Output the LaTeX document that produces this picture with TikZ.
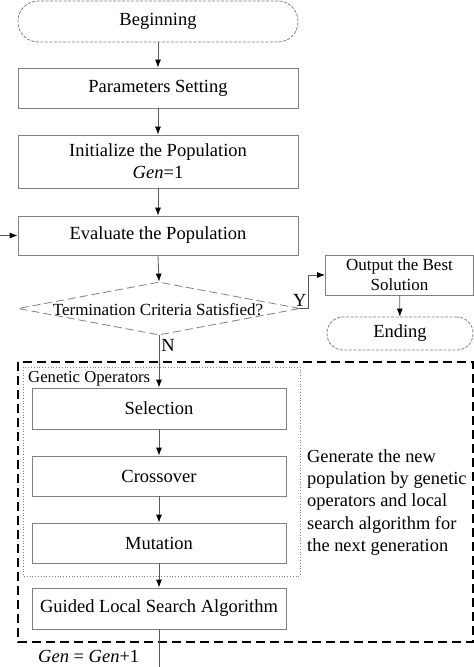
\documentclass[tikz,border=0pt]{standalone}
\usepackage{fontspec}
\setmainfont{Liberation Serif}
\usetikzlibrary{shapes.geometric,arrows.meta}
\tikzset{
  procbox/.style={draw=gray,line width=0.8pt,minimum width=280pt,minimum height=40pt,inner sep=0pt,align=center,font=\fontsize{18.5}{22}\selectfont},
  gabox/.style={procbox,minimum width=254pt,minimum height=41pt},
  termbox/.style={procbox,draw=gray,dash pattern=on 3pt off 1.5pt},
  decbox/.style={diamond,draw=gray,line width=0.8pt,dash pattern=on 8pt off 4pt,inner sep=0pt,minimum width=282pt,minimum height=53pt},
  smalltxt/.style={inner sep=0pt,align=center,font=\fontsize{17}{20}\selectfont},
  flow/.style={draw=black!65,line width=0.8pt,->}
}
\begin{document}
\begin{tikzpicture}[x=1pt,y=-1pt,>={Latex[length=8pt,width=6pt,color=black]}]
\useasboundingbox (0,0) rectangle (474,667);
%main column
\node[termbox,rounded corners=20pt,minimum height=41pt] (begin) at (158,21.5) {Beginning};
\node[procbox] (param) at (158,88) {Parameters Setting};
\node[procbox,minimum height=53pt] (init) at (158,161.5) {Initialize the Population\\\textit{Gen}=1};
\node[procbox,minimum height=39pt] (eval) at (158,235.5) {Evaluate the Population};
\node[decbox] (crit) at (159,308.5) {};
\node[smalltxt] (crittxt) at (158,310) {Termination Criteria Satisfied?};
%exit branch
\node[procbox,smalltxt,draw=gray,minimum width=148pt,minimum height=40pt] (output) at (399.5,275) {Output the Best\\Solution};
\node[termbox,rounded corners=16pt,minimum width=146pt,minimum height=33pt] (ending) at (400,333.5) {Ending};
%operators
\draw[black,line width=1.6pt,dash pattern=on 9pt off 5pt] (18,362) rectangle (473,642);
\draw[gray,dotted,line width=0.8pt] (23,367) rectangle (300,576);
\node[anchor=west,inner sep=0pt,font=\fontsize{16.7}{20}\selectfont] (golbl) at (28,379) {Genetic Operators};
\node[gabox] (sel) at (159,408.5) {Selection};
\node[gabox,minimum height=40pt] (cross) at (159,476) {Crossover};
\node[gabox,minimum height=40pt] (mut) at (159,543) {Mutation};
\node[gabox] (gls) at (159,608.5) {Guided Local Search Algorithm};
\node[anchor=west,inner sep=0pt,align=left,font=\fontsize{18.4}{22.2}\selectfont] (gentxt) at (307,502.5) {Generate the new\\population by genetic\\operators and local\\search algorithm for\\the next generation};
\node[anchor=west,inner sep=0pt,font=\fontsize{18.5}{22}\selectfont] (genlbl) at (38,656) {\textit{Gen} = \textit{Gen}+1};
%connectors
\coordinate (loopin) at (0,235.5);
\coordinate (loopout) at (159,667);
\draw[flow] (begin) -- (param);
\draw[flow] (param) -- (init);
\draw[flow] (init) -- (eval);
\draw[flow] (loopin) -- (eval.west);
\draw[flow] (eval.south) -- (crit.north);
\draw[flow] (crit.east) -- ++(8,0) |- (output.west) node[pos=0.12,left,font=\fontsize{18.5}{22}\selectfont,inner sep=1.5pt] (ylbl) {Y};
\draw[flow] (output) -- (ending);
\draw[flow] (crit.south) -- (sel.north) node[pos=0.2,right,font=\fontsize{18.5}{22}\selectfont,inner sep=2pt] (nlbl) {N};
\draw[flow] (sel) -- (cross);
\draw[flow] (cross) -- (mut);
\draw[flow] (mut) -- (gls);
\draw[draw=black!65,line width=0.8pt] (gls.south) -- (loopout);
\end{tikzpicture}
\end{document}
